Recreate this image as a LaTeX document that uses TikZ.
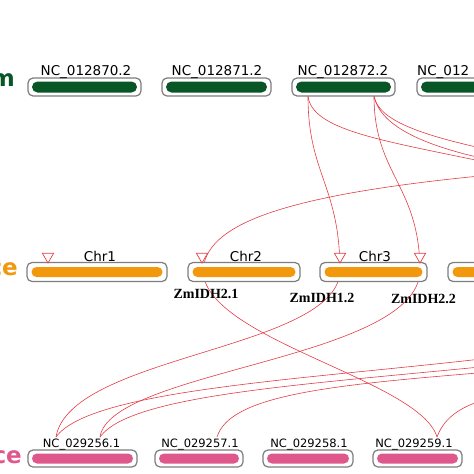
\documentclass[tikz,border=0pt]{standalone}
\usepackage{fontspec}
\newfontfamily\chrfont{DejaVu Sans}
\newfontfamily\genefont{Liberation Serif}
\usetikzlibrary{shapes.geometric}
\definecolor{chrgreen}{RGB}{8,86,38}
\definecolor{chrorange}{RGB}{242,152,12}
\definecolor{chrpink}{RGB}{222,88,140}
\definecolor{linkred}{RGB}{228,60,70}
\definecolor{boxgray}{RGB}{125,125,125}

\begin{document}
\begin{tikzpicture}[x=1pt,y=-1pt,
  chrbox/.style={draw=boxgray,fill=white,rectangle,rounded corners=5pt,
                 line width=1.2pt,inner sep=0pt,minimum height=18pt},
  gbar/.style={rectangle,fill=chrgreen,rounded corners=5.5pt,
               minimum height=11pt,inner sep=0pt},
  obar/.style={rectangle,fill=chrorange,rounded corners=5pt,
               minimum height=10pt,inner sep=0pt},
  pbar/.style={rectangle,fill=chrpink,rounded corners=5pt,
               minimum height=10pt,inner sep=0pt},
  genetri/.style={regular polygon,regular polygon sides=3,shape border rotate=180,
                  draw=linkred,fill=white,line width=0.7pt,minimum size=13pt,inner sep=0pt},
  namelbl/.style={font=\chrfont\fontsize{13.5}{16}\selectfont,inner sep=0pt,anchor=base},
  smalllbl/.style={font=\chrfont\fontsize{11.5}{14}\selectfont,inner sep=0pt,anchor=base},
  genelbl/.style={font=\genefont\bfseries\fontsize{14}{16}\selectfont,inner sep=0pt,anchor=base},
  sidelbl/.style={font=\chrfont\bfseries\fontsize{23}{26}\selectfont,inner sep=0pt,anchor=base east},
  link/.style={draw=linkred,line width=0.6pt}
]
\useasboundingbox (0,0) rectangle (474,474);

%% Link end points
\coordinate (a72l) at (308,96);
\coordinate (a72r) at (374,96);
\coordinate (g1) at (203,272);
\coordinate (g2) at (340,272);
\coordinate (g3) at (420,272);
\coordinate (b56a) at (56,437);
\coordinate (b56b) at (100,437);
\coordinate (b57a) at (217,437);
\coordinate (b59a) at (437,437);
\coordinate (e1) at (490,163);
\coordinate (e2) at (490,150);
\coordinate (e3) at (490,160);
\coordinate (e4) at (490,175);
\coordinate (e5) at (490,358);
\coordinate (e6) at (490,366);
\coordinate (e7) at (490,372);
\coordinate (e8) at (490,398);

%% Links: top to middle
\draw[link] (a72l) .. controls (308,175) and (340,185) .. (g2);
\draw[link] (a72r) .. controls (374,175) and (420,185) .. (g3);
\draw[link] (a72l) .. controls (312,130) and (380,140) .. (e1);
\draw[link] (a72r) .. controls (378,120) and (420,135) .. (e2);
\draw[link] (a72r) .. controls (380,125) and (420,145) .. (e3);
\draw[link] (g1) .. controls (204,225) and (280,195) .. (e4);

%% Links: middle to bottom
\draw[link] (g1) .. controls (208,340) and (420,380) .. (b59a);
\draw[link] (g2) .. controls (335,350) and (70,355) .. (b56a);
\draw[link] (g3) .. controls (415,360) and (110,370) .. (b56b);
\draw[link] (e5) .. controls (300,380) and (90,390) .. (b56a);
\draw[link] (e6) .. controls (300,385) and (130,395) .. (b56b);
\draw[link] (e7) .. controls (330,385) and (230,395) .. (b57a);
\draw[link] (b59a) .. controls (445,415) and (465,405) .. (e8);

%% Top row
\node[sidelbl,chrgreen] (sp1) at (15,86) {m};
\node[chrbox,minimum width=113pt] (nc70) at (84.5,87) {};
\node[chrbox,minimum width=109pt] (nc71) at (216.5,87) {};
\node[chrbox,minimum width=103pt] (nc72) at (343.5,87) {};
\node[chrbox,minimum width=110pt] (nc73) at (472,87) {};
\node[gbar,minimum width=105pt] (nc70b) at (nc70) {};
\node[gbar,minimum width=101pt] (nc71b) at (nc71) {};
\node[gbar,minimum width=95pt] (nc72b) at (nc72) {};
\node[gbar,minimum width=102pt] (nc73b) at (nc73) {};
\node[namelbl] (nc70l) at (86,75) {NC\_012870.2};
\node[namelbl] (nc71l) at (217,75) {NC\_012871.2};
\node[namelbl] (nc72l) at (343,75) {NC\_012872.2};
\node[namelbl,anchor=base west] (nc73l) at (417,75) {NC\_012};

%% Middle row
\node[sidelbl,chrorange] (sp2) at (18,275) {ce};
\node[chrbox,minimum width=140pt,minimum height=19pt] (chr1) at (97,272) {};
\node[chrbox,minimum width=112pt,minimum height=19pt] (chr2) at (244,272) {};
\node[chrbox,minimum width=107pt,minimum height=19pt] (chr3) at (373.5,272) {};
\node[chrbox,minimum width=110pt,minimum height=19pt] (chr4) at (503,272) {};
\node[obar,minimum width=131pt] (chr1b) at (chr1) {};
\node[obar,minimum width=103pt] (chr2b) at (chr2) {};
\node[obar,minimum width=98pt] (chr3b) at (chr3) {};
\node[obar,minimum width=101pt] (chr4b) at (chr4) {};
\node[namelbl] (chr1l) at (100,261) {Chr1};
\node[namelbl] (chr2l) at (246,261) {Chr2};
\node[namelbl] (chr3l) at (375,261) {Chr3};
\node[genetri] (t1) at (48,256.5) {};
\node[genetri] (t2) at (202,256.5) {};
\node[genetri] (t3) at (340,256.5) {};
\node[genetri] (t4) at (420,256.5) {};
\node[genelbl] (gn1) at (206,298) {ZmIDH2.1};
\node[genelbl] (gn2) at (322,302) {ZmIDH1.2};
\node[genelbl] (gn3) at (423.5,303) {ZmIDH2.2};

%% Bottom row
\node[sidelbl,chrpink] (sp3) at (22,463) {ce};
\node[chrbox,minimum width=109pt,minimum height=17pt] (nc56) at (82.5,458.5) {};
\node[chrbox,minimum width=88pt,minimum height=17pt] (nc57) at (199,458.5) {};
\node[chrbox,minimum width=90pt,minimum height=17pt] (nc58) at (308,458.5) {};
\node[chrbox,minimum width=89pt,minimum height=17pt] (nc59) at (417.5,458.5) {};
\node[pbar,minimum width=101pt] (nc56b) at (nc56) {};
\node[pbar,minimum width=80pt] (nc57b) at (nc57) {};
\node[pbar,minimum width=82pt] (nc58b) at (nc58) {};
\node[pbar,minimum width=81pt] (nc59b) at (nc59) {};
\node[smalllbl] (nc56l) at (81.5,447) {NC\_029256.1};
\node[smalllbl] (nc57l) at (200,447) {NC\_029257.1};
\node[smalllbl] (nc58l) at (309,447) {NC\_029258.1};
\node[smalllbl] (nc59l) at (414,447) {NC\_029259.1};
\end{tikzpicture}
\end{document}
